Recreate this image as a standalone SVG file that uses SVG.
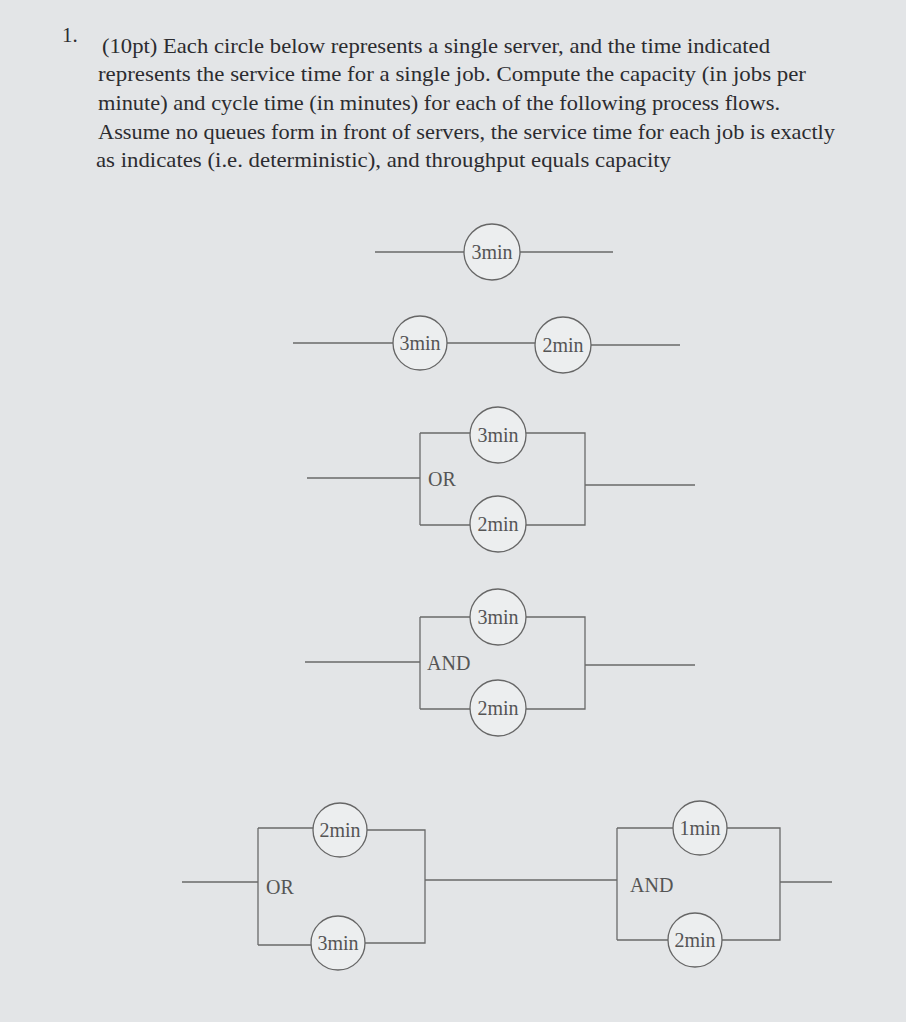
<svg xmlns="http://www.w3.org/2000/svg" width="906" height="1022" viewBox="0 0 906 1022">
<style>
text{font-family:"Liberation Serif",serif;fill:#2c2c30}
.t{font-size:21px}
.l{font-size:20px;fill:#555}
.c{fill:#eceeef;stroke:#666;stroke-width:1.3}
.w{stroke:#6a6a6a;stroke-width:1.3;fill:none}
</style>
<rect width="906" height="1022" fill="#e3e5e7"/>
<g id="question">
<text class="t" x="62" y="42">1.</text>
<text class="t" x="102" y="53" textLength="668" lengthAdjust="spacingAndGlyphs">(10pt) Each circle below represents a single server, and the time indicated</text>
<text class="t" x="98" y="81" textLength="708" lengthAdjust="spacingAndGlyphs">represents the service time for a single job. Compute the capacity (in jobs per</text>
<text class="t" x="98" y="110" textLength="682" lengthAdjust="spacingAndGlyphs">minute) and cycle time (in minutes) for each of the following process flows.</text>
<text class="t" x="98" y="139" textLength="737" lengthAdjust="spacingAndGlyphs">Assume no queues form in front of servers, the service time for each job is exactly</text>
<text class="t" x="96" y="167" textLength="575" lengthAdjust="spacingAndGlyphs">as indicates (i.e. deterministic), and throughput equals capacity</text>
</g>
<g id="connectors" class="w">
<path d="M375 252H464M520 252H613"/>
<path d="M293 343H393M447 343H536M591 345H680"/>
<path d="M307 478H420M420 433V525M420 433H470M526 433H585V525H526M470 525H420M585 485H695"/>
<path d="M305 662H420M420 617V709M420 617H470M526 617H585V709H526M470 709H420M585 665H695"/>
<path d="M182 882H258M258 828V945M258 828H313M367 830H425V943H365M311 945H258M425 880H617M617 828V940M617 828H673M727 828H780V940H722M668 940H617M780 882H832"/>
</g>
<g id="n1"><circle class="c" cx="492" cy="252" r="28"/><text class="l" x="492" y="259" text-anchor="middle">3min</text></g>
<g id="n2"><circle class="c" cx="420" cy="343" r="27"/><text class="l" x="420" y="350" text-anchor="middle">3min</text></g>
<g id="n3"><circle class="c" cx="563" cy="345" r="28"/><text class="l" x="563" y="352" text-anchor="middle">2min</text></g>
<g id="n4"><text class="l" x="428" y="486">OR</text></g>
<g id="n5"><circle class="c" cx="498" cy="435" r="28"/><text class="l" x="498" y="442" text-anchor="middle">3min</text></g>
<g id="n6"><circle class="c" cx="498" cy="524" r="28"/><text class="l" x="498" y="531" text-anchor="middle">2min</text></g>
<g id="n7"><text class="l" x="427" y="670">AND</text></g>
<g id="n8"><circle class="c" cx="498" cy="617" r="28"/><text class="l" x="498" y="624" text-anchor="middle">3min</text></g>
<g id="n9"><circle class="c" cx="498" cy="708" r="28"/><text class="l" x="498" y="715" text-anchor="middle">2min</text></g>
<g id="n10"><text class="l" x="266" y="894">OR</text></g>
<g id="n11"><circle class="c" cx="340" cy="830" r="27"/><text class="l" x="340" y="837" text-anchor="middle">2min</text></g>
<g id="n12"><circle class="c" cx="338" cy="943" r="27"/><text class="l" x="338" y="950" text-anchor="middle">3min</text></g>
<g id="n13"><text class="l" x="630" y="892">AND</text></g>
<g id="n14"><circle class="c" cx="700" cy="828" r="27"/><text class="l" x="700" y="835" text-anchor="middle">1min</text></g>
<g id="n15"><circle class="c" cx="695" cy="940" r="27"/><text class="l" x="695" y="947" text-anchor="middle">2min</text></g>
</svg>
